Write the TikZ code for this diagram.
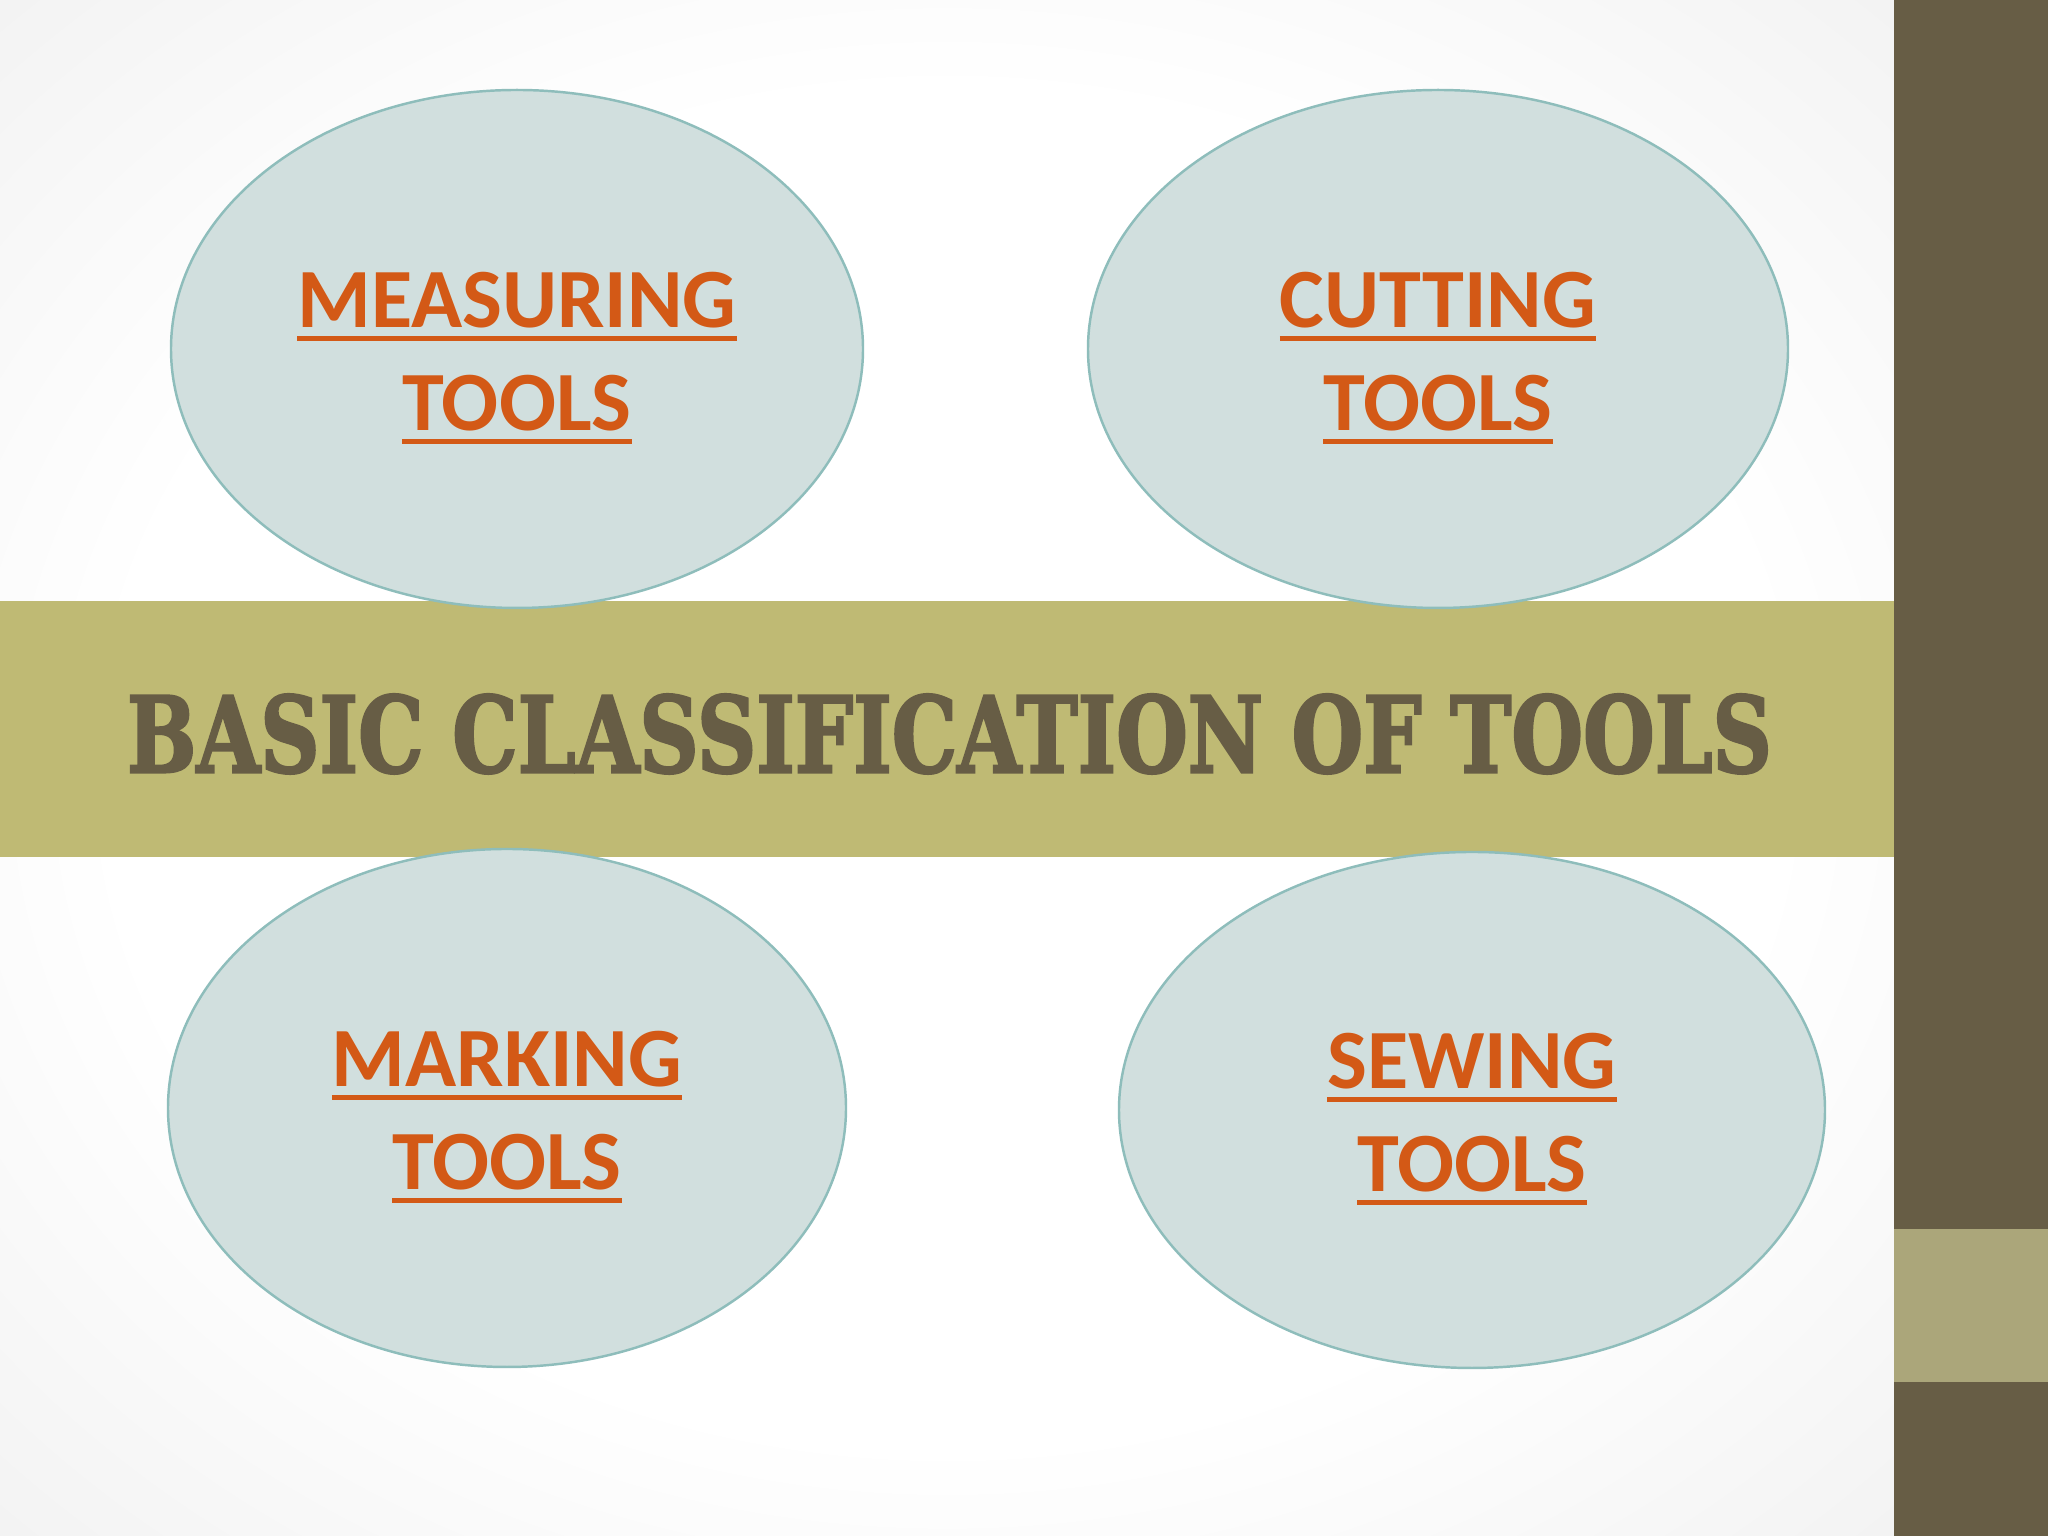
\documentclass[tikz,border=0pt]{standalone}
\usepackage{fontspec}
\usepackage{graphicx}
\usepackage{tikz}
\usetikzlibrary{shapes,positioning}

\newfontfamily\toolfont{Carlito}
\newfontfamily\titlefont[BoldFeatures={FakeBold=2.5}]{DejaVu Serif}

\definecolor{groupfill}{HTML}{D1DFDE}
\definecolor{groupedge}{HTML}{8EBDBB}
\definecolor{tooltext}{HTML}{D35916}
\definecolor{bandfill}{HTML}{BFBA74}
\definecolor{titletext}{HTML}{675D45}
\definecolor{barfill}{HTML}{675D45}
\definecolor{barlight}{HTML}{ABA67A}

\pgfdeclareradialshading{slidebg}{\pgfpoint{0bp}{0bp}}{color(0bp)=(white); color(22bp)=(white); color(50bp)=(black!10); color(75bp)=(black!19)}

\newcommand{\ToolUnder}[1]{\setbox0\hbox{#1}\rlap{\rule[-0.14cm]{\wd0}{0.05cm}}\box0}
\newcommand{\ToolStrut}{\rule{0pt}{0.74cm}}

\begin{document}
\begin{tikzpicture}
			\tikzstyle{Group}	= [ellipse, draw=groupedge, fill=groupfill, line width=0.7pt, inner sep=0pt, align=center, text=tooltext, font=\toolfont\bfseries\fontsize{24pt}{29.3pt}\selectfont]
			\tikzstyle{Title}	= [inner sep=0pt, text=titletext]

			\useasboundingbox (0,0) rectangle (20.48,15.36);
			\shade [shading=slidebg] (0,0) rectangle (18.94,15.36);
			\fill [barfill] (18.94,0) rectangle (20.48,15.36);
			\fill [barlight] (18.94,1.54) rectangle (20.48,3.07);
			\fill [bandfill] (0,6.79) rectangle (18.94,9.35);

			\node (title) at (9.495,8.02) [Title] {\resizebox{16.45cm}{0.78cm}{\titlefont\bfseries BASIC CLASSIFICATION OF TOOLS}};

			\node (measuring) at (5.17,11.87) [Group][minimum width=6.92cm, minimum height=5.18cm] {\ToolStrut\ToolUnder{MEASURING}\\\ToolUnder{TOOLS}};
			\node (cutting) at (14.38,11.87) [Group][minimum width=7.00cm, minimum height=5.18cm] {\ToolStrut\ToolUnder{CUTTING}\\\ToolUnder{TOOLS}};
			\node (marking) at (5.07,4.28) [Group][minimum width=6.78cm, minimum height=5.18cm] {\ToolStrut\ToolUnder{MARKING}\\\ToolUnder{TOOLS}};
			\node (sewing) at (14.72,4.26) [Group][minimum width=7.06cm, minimum height=5.16cm] {\ToolStrut\ToolUnder{SEWING}\\\ToolUnder{TOOLS}};
		\end{tikzpicture}
\end{document}
